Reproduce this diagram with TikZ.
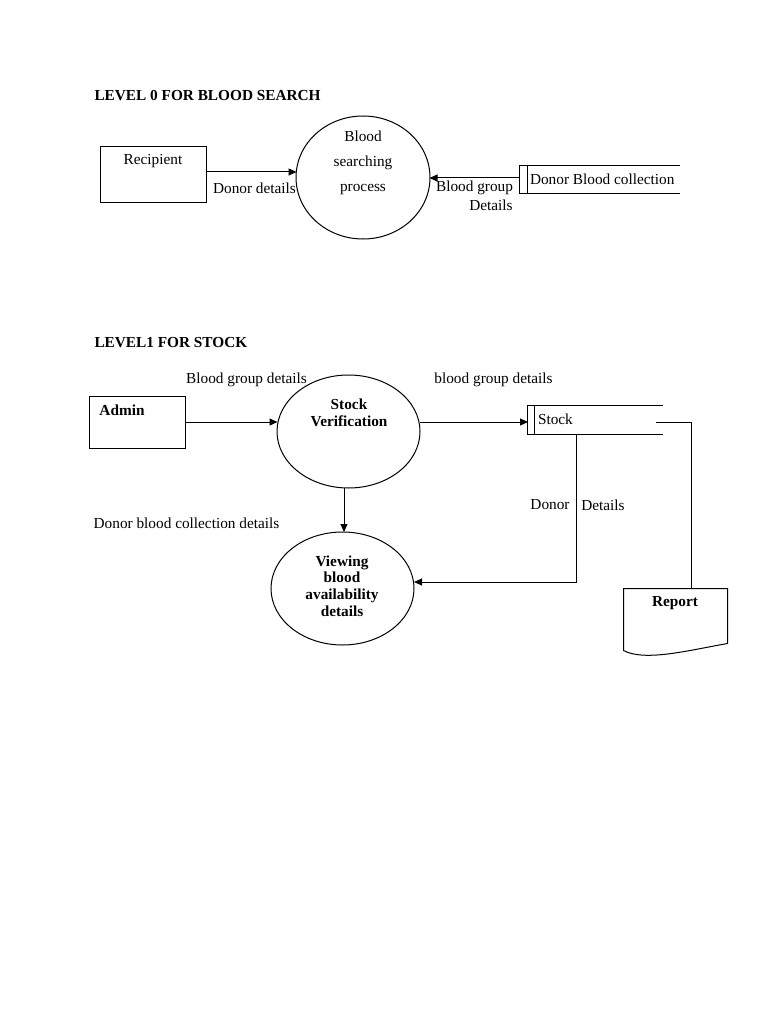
\documentclass[tikz,border=0pt]{standalone}
\usepackage{fontspec}
\setmainfont{Liberation Serif}
\usetikzlibrary{arrows.meta,shapes.geometric}
\begin{document}
\begin{tikzpicture}[x=1pt,y=-1pt,
  font=\fontsize{15.3}{18}\selectfont,
  line width=1pt,
  arr/.style={-{Triangle[length=8pt,width=7pt]}},
  txt/.style={inner sep=0pt, align=center},
  boxnode/.style={draw, rectangle, inner sep=0pt},
  proc/.style={draw, ellipse, inner sep=0pt},
  ghost/.style={rectangle, inner sep=0pt}]
\fill[white] (0,0) rectangle (768,1024);
\useasboundingbox (0,0) rectangle (768,1024);

% ---------- Level 0 ----------
\node[txt, anchor=west, font=\fontsize{15.3}{18}\selectfont\bfseries] (t0) at (94,96) {LEVEL 0 FOR BLOOD SEARCH};

\node[boxnode, minimum width=106, minimum height=56] (rec) at (153,175) {};
\node[txt] (rect) at (153,161) {Recipient};

\node[proc, minimum width=134, minimum height=123] (bsp) at (363,177.5) {};
\node[txt, font=\fontsize{15.3}{25.3}\selectfont] (bspt) at (363,163) {Blood\\searching\\process};

\node[ghost, minimum width=159, minimum height=27] (dbc) at (599.5,179.5) {};
\draw (dbc.north east) -- (dbc.north west) -- (dbc.south west) -- (dbc.south east);
\draw ([xshift=8pt]dbc.north west) -- ([xshift=8pt]dbc.south west);
\node[txt, anchor=west] (dbct) at ([xshift=10pt]dbc.west) {Donor Blood collection};

\coordinate (recout) at (206,172);
\coordinate (bspin) at (296.5,172);
\draw[arr] (recout) -- (bspin);
\node[txt] (l1) at (254.5,188) {Donor details};

\coordinate (dbcout) at (520,178);
\coordinate (bspin2) at (429.5,178);
\draw[arr] (dbcout) -- (bspin2);
\node[txt] (l2) at (474.5,188) {Blood group};
\node[txt] (l3) at (491,205) {Details};

% ---------- Level 1 ----------
\node[txt, anchor=west, font=\fontsize{15.3}{18}\selectfont\bfseries] (t1) at (94,343) {LEVEL1 FOR STOCK};

\node[boxnode, minimum width=96, minimum height=52] (adm) at (137,422) {};
\node[txt, font=\fontsize{15.3}{18}\selectfont\bfseries] (admt) at (122,410) {Admin};

\node[proc, minimum width=143, minimum height=113] (sv) at (348.5,431.5) {};
\node[txt, font=\fontsize{15.3}{17.5}\selectfont\bfseries] (svt) at (349,413) {Stock\\Verification};

\node[ghost, minimum width=134, minimum height=28] (stk) at (595,419.5) {};
\draw (stk.north east) -- (stk.north west) -- (stk.south west) -- (stk.south east);
\draw ([xshift=7pt]stk.north west) -- ([xshift=7pt]stk.south west);
\node[txt, anchor=west] (stkt) at ([xshift=10pt]stk.west) {Stock};

\node[proc, minimum width=143, minimum height=113] (vba) at (342.5,588.5) {};
\node[txt, font=\fontsize{15.3}{16.8}\selectfont\bfseries] (vbat) at (342,586) {Viewing\\blood\\availability\\details};

\node[ghost, minimum width=103, minimum height=61] (rep) at (675.5,619.5) {};
\draw ([yshift=7pt]rep.south east) -- (rep.north east) -- (rep.north west) -- (rep.south west)
  .. controls (645,662) and (690,650) .. ([yshift=7pt]rep.south east);
\node[txt, font=\fontsize{15.3}{18}\selectfont\bfseries] (rept) at (675,603) {Report};

\coordinate (admout) at (185,422);
\coordinate (svin) at (277.5,422);
\draw[arr] (admout) -- (svin);
\node[txt] (l4) at (246.5,380) {Blood group details};

\coordinate (svout) at (420,422);
\coordinate (stkin) at (528,422);
\draw[arr] (svout) -- (stkin);
\node[txt] (l5) at (493.5,380) {blood group details};

\coordinate (svbot) at (344,488);
\coordinate (vbatop) at (344,532);
\draw[arr] (svbot) -- (vbatop);
\node[txt] (l6) at (186.5,523) {Donor blood collection details};

\coordinate (stkdn) at (576,433.5);
\coordinate (vbain) at (414,582);
\draw[arr] (stkdn) |- (vbain);
\node[txt] (l7) at (550,505) {Donor};
\node[txt] (l8) at (603,505) {Details};

\coordinate (stkout) at (656,422);
\draw (stkout) -| ([xshift=15.5pt]rep.north);
\end{tikzpicture}
\end{document}
